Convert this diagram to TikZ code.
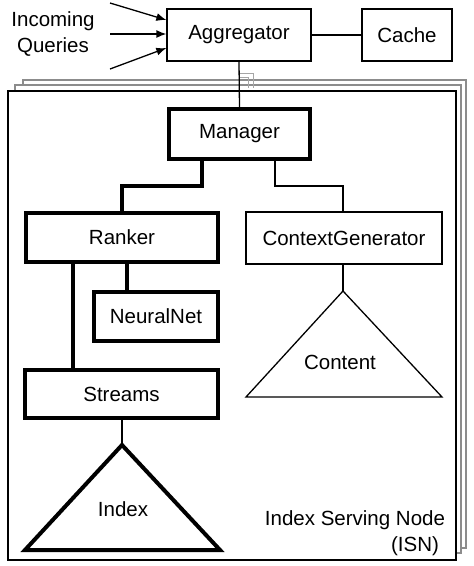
\documentclass[tikz,border=0pt]{standalone}
\usepackage{fontspec}
\setmainfont{Liberation Sans}
\usetikzlibrary{arrows.meta}
\begin{document}
\begin{tikzpicture}[x=1pt,y=-1pt,
  lbl/.style={font=\fontsize{20.5}{24}\selectfont, inner sep=0pt},
  thinbox/.style={draw=black, line width=1.3pt, fill=white},
  thickbox/.style={draw=black, line width=4pt, fill=white, line join=miter},
  thinline/.style={draw=black, line width=1.3pt},
  thickline/.style={draw=black, line width=4pt},
  backpage/.style={draw=black!45, line width=1.3pt, fill=white},
  frontpage/.style={draw=black, line width=1.6pt, fill=white},
  inarrow/.style={draw=black, line width=1.3pt, -{Latex[length=10pt,width=8pt]}}]
\useasboundingbox (0,0) rectangle (474,566);
% stacked pages
\draw[backpage] (23,80) rectangle (466,548);
\draw[backpage] (15,85) rectangle (461,553);
\draw[black!35, line width=1pt] (240,73) -- (253,73) -- (253,88);
\draw[black!35, line width=1pt] (240,77) -- (248,77) -- (248,88);
\draw[frontpage] (8,91) rectangle (456,560);
% top boxes
\node[thinbox, minimum width=144pt, minimum height=52pt, lbl] (agg) at (239,35) {Aggregator};
\node[thinbox, minimum width=90pt, minimum height=52pt, lbl] (cache) at (407,35) {Cache};
\node[lbl, align=center] (inq) at (53,34) {Incoming\\[2pt]Queries};
\coordinate (a1) at (110,3);
\coordinate (a2) at (110,34);
\coordinate (a3) at (110,69);
\draw[inarrow] (a1) -- (agg.west |- 0,20);
\draw[inarrow] (a2) -- (agg.west |- 0,34);
\draw[inarrow] (a3) -- (agg.west |- 0,48);
\draw[thinline] (agg.east) -- (cache.west);
% inner boxes
\node[thickbox, minimum width=141pt, minimum height=50pt, lbl] (mgr) at (239.5,134) {Manager};
\node[thickbox, minimum width=192pt, minimum height=49pt, lbl] (rank) at (122,237.5) {Ranker};
\node[thinbox, minimum width=196pt, minimum height=52pt, lbl] (cg) at (344,238) {ContextGenerator};
\node[thickbox, minimum width=124pt, minimum height=49pt, lbl] (nn) at (156,316.5) {NeuralNet};
\node[thickbox, minimum width=193pt, minimum height=48pt, lbl] (str) at (121.5,394) {Streams};
% triangles
\coordinate (ctop) at (343,291);
\coordinate (cl) at (246,397);
\coordinate (cr) at (442,397);
\draw[thinline, line join=miter] (ctop) -- (cl) -- (cr) -- cycle;
\node[lbl] (content) at (340,362) {Content};
\coordinate (itop) at (122,445);
\coordinate (il) at (25,550);
\coordinate (ir) at (220,550);
\draw[thickline, line join=miter] (itop) -- (il) -- (ir) -- cycle;
\node[lbl] (index) at (123,509) {Index};
\node[lbl, align=center] (isn) at (355,520) {Index Serving Node};
\node[lbl] (isn2) at (415,546) {(ISN)};
% connectors
\draw[thinline] (agg.south) -- (mgr.north);
\draw[thickline] (mgr.south -| 202,0) -- (202,186) -- (122,186) -- (rank.north -| 122,0);
\draw[thinline] (mgr.south -| 275,0) -- (275,186) -- (343,186) -- (cg.north -| 343,0);
\draw[thickline] (rank.south -| 127,0) -- (nn.north -| 127,0);
\draw[thickline] (rank.south -| 73,0) -- (str.north -| 73,0);
\draw[thinline] (str.south -| 122,0) -- (itop);
\draw[thinline] (cg.south -| 343,0) -- (ctop);
\end{tikzpicture}
\end{document}
